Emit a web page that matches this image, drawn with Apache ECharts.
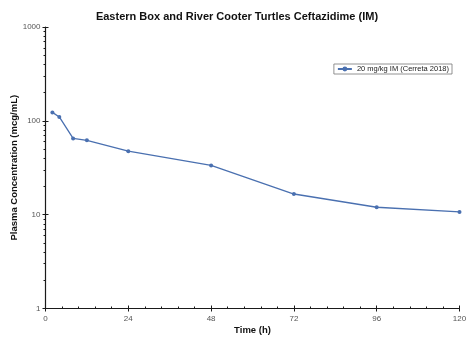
<!DOCTYPE html>
<html><head><meta charset="utf-8">
<script src="https://cdn.jsdelivr.net/npm/echarts@6/dist/echarts.min.js"></script>
<style>html,body{margin:0;padding:0;background:#fff}#c{width:474px;height:344px}</style>
</head><body><div id="c"></div>
<script>
const timeH = [2, 4, 8, 12, 24, 48, 72, 96, 120];
const concIM = [123, 110, 65, 62, 47.5, 33.5, 16.6, 12.0, 10.7];
const seriesName = '20 mg/kg IM (Cerreta 2018)';
const xTicks = [0, 24, 48, 72, 96, 120];
const yMajorTicks = [1, 10, 100, 1000];
const yMinorTicks = [2,3,4,5,6,7,8,9,20,30,40,50,60,70,80,90,200,300,400,500,600,700,800,900];

const font = 'Liberation Sans, Arial, sans-serif';
const axisColor = '#1a1a1a';
const lab = {color:'#555', fontSize:8, fontFamily:font};
const logMajor = yMajorTicks.map(v => Math.log10(v));
const logMinor = yMinorTicks.map(v => Math.log10(v));
const grid = {left:45.5, right:14.5, top:27, bottom:35.5, containLabel:false, outerBoundsMode:'none'};

const chart = echarts.init(document.getElementById('c'), null, {renderer:'canvas'});
chart.setOption({
  backgroundColor:'#fff',
  animation:false,
  title:{text:'Eastern Box and River Cooter Turtles Ceftazidime (IM)', left:'center', top:6,
    textStyle:{fontFamily:font, fontSize:11, fontWeight:'bold', color:'#111'}},
  legend:{right:22, top:64, itemWidth:14, itemHeight:6, padding:[1,3,1,3], itemGap:4,
    borderColor:'#777', borderWidth:0.8, textStyle:{fontFamily:font, fontSize:7.5, color:'#222'},
    data:[seriesName]},
  grid:grid,
  xAxis:[{
    type:'value', min:xTicks[0], max:xTicks[xTicks.length-1], interval:24,
    name:'Time (h)', nameLocation:'middle', nameGap:17, nameMoveOverlap:false,
    nameTextStyle:{fontFamily:font, fontSize:9.5, fontWeight:'bold', color:'#111'},
    axisLine:{show:true, onZero:false, lineStyle:{color:axisColor, width:1.2}},
    axisTick:{show:true, length:3, lineStyle:{color:axisColor}},
    axisLabel:Object.assign({margin:6, customValues:xTicks}, lab),
    splitLine:{show:false}
  },{
    type:'value', min:xTicks[0], max:xTicks[xTicks.length-1], interval:24, position:'bottom',
    axisLine:{show:false}, axisLabel:{show:false}, splitLine:{show:false},
    axisTick:{show:true, inside:true, length:3, lineStyle:{color:axisColor}},
    minorTick:{show:true, splitNumber:5, length:2, lineStyle:{color:axisColor}}
  }],
  yAxis:[{
    type:'log', logBase:10, min:yMajorTicks[0], max:yMajorTicks[yMajorTicks.length-1],
    name:'Plasma Concentration (mcg/mL)', nameLocation:'middle', nameGap:26, nameMoveOverlap:false,
    nameTextStyle:{fontFamily:font, fontSize:9.5, fontWeight:'bold', color:'#111'},
    axisLine:{show:true, lineStyle:{color:axisColor, width:1.2}},
    axisTick:{show:true, length:3, lineStyle:{color:axisColor}},
    axisLabel:Object.assign({margin:5, formatter:v => String(Math.round(v))}, lab),
    splitLine:{show:false}
  },{
    type:'value', min:logMajor[0], max:logMajor[logMajor.length-1], position:'left',
    axisLine:{show:false}, axisLabel:{show:false}, splitLine:{show:false},
    axisTick:{show:true, inside:true, length:3, customValues:logMajor, lineStyle:{color:axisColor}}
  },{
    type:'value', min:logMajor[0], max:logMajor[logMajor.length-1], position:'left',
    axisLine:{show:false}, axisLabel:{show:false}, splitLine:{show:false},
    axisTick:{show:true, length:2, customValues:logMinor, lineStyle:{color:axisColor}}
  }],
  series:[{
    name:seriesName, type:'line', xAxisIndex:0, yAxisIndex:0,
    data:timeH.map((t,i)=>[t, concIM[i]]),
    symbol:'circle', symbolSize:4, showSymbol:true,
    lineStyle:{color:'#4a70b0', width:1.3},
    itemStyle:{color:'#4a70b0'}
  }]
});
</script></body></html>
